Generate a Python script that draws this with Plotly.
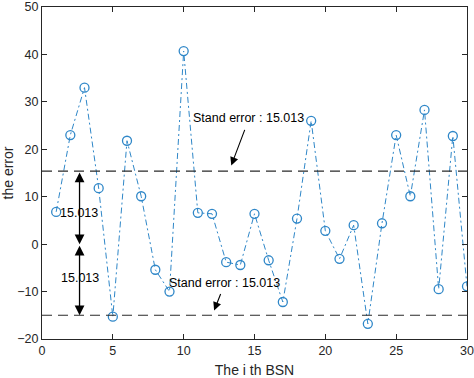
import plotly.graph_objects as go

# ---- data ----
bsn = list(range(1, 31))
error = [6.8, 23.0, 33.0, 11.8, -15.3, 21.8, 10.1, -5.4, -10.0, 40.7,
         6.6, 6.4, -3.8, -4.4, 6.4, -3.4, -12.2, 5.4, 26.0, 2.8,
         -3.1, 4.0, -16.8, 4.4, 23.0, 10.1, 28.3, -9.5, 22.8, -8.9]
upper_level = 15.4
lower_level = -15.0
std_label = "15.013"
x_ticks = [0, 5, 10, 15, 20, 25, 30]
y_ticks = [-20, -10, 0, 10, 20, 30, 40, 50]

FONT = "Liberation Sans, Arial, sans-serif"
AX = "#262626"
BLUE = "#2f87c8"

fig = go.Figure()

fig.add_trace(go.Scatter(
    x=bsn, y=error, mode="lines+markers",
    line=dict(color=BLUE, width=1, dash="6px,3px,2px,3px"),
    marker=dict(symbol="circle-open", size=9, color=BLUE, line=dict(width=1.3, color=BLUE)),
    showlegend=False, hoverinfo="skip"))

for lvl in (upper_level, lower_level):
    fig.add_trace(go.Scatter(
        x=[x_ticks[0], x_ticks[-1]], y=[lvl, lvl], mode="lines",
        line=dict(color="#2a2a2a", width=1.1, dash="10px,6px"),
        showlegend=False, hoverinfo="skip"))

ann = []
# double arrows
xa = 2.65
ann.append(dict(x=xa, y=0, ax=xa, ay=upper_level, xref="x", yref="y", axref="x", ayref="y",
                text="", showarrow=True, arrowhead=2, startarrowhead=2, arrowside="end+start",
                arrowsize=1.5, startarrowsize=1.5, arrowwidth=1.3, arrowcolor="black",
                standoff=0, startstandoff=0))
ann.append(dict(x=xa, y=lower_level, ax=xa, ay=0, xref="x", yref="y", axref="x", ayref="y",
                text="", showarrow=True, arrowhead=2, startarrowhead=2, arrowside="end+start",
                arrowsize=1.5, startarrowsize=1.5, arrowwidth=1.3, arrowcolor="black",
                standoff=0, startstandoff=0))
ann.append(dict(x=2.6, y=6.6, xref="x", yref="y", text=std_label, showarrow=False,
                font=dict(family=FONT, size=12.5, color="black")))
ann.append(dict(x=2.65, y=-7.1, xref="x", yref="y", text=std_label, showarrow=False,
                font=dict(family=FONT, size=12.5, color="black")))
# stand error labels
ann.append(dict(x=14.6, y=26.5, xref="x", yref="y", text="Stand error : " + std_label,
                showarrow=False, font=dict(family=FONT, size=12.5, color="black")))
ann.append(dict(x=12.9, y=-8.1, xref="x", yref="y", text="Stand error : " + std_label,
                showarrow=False, font=dict(family=FONT, size=12.5, color="black")))
# single arrows
ann.append(dict(x=13.36, y=16.6, ax=14.35, ay=24.4, xref="x", yref="y", axref="x", ayref="y",
                text="", showarrow=True, arrowhead=2, arrowsize=1.5, arrowwidth=1.1,
                arrowcolor="black", standoff=0))
ann.append(dict(x=12.15, y=-14.0, ax=12.65, ay=-10.2, xref="x", yref="y", axref="x", ayref="y",
                text="", showarrow=True, arrowhead=2, arrowsize=1.5, arrowwidth=1.1,
                arrowcolor="black", standoff=0))

fig.update_layout(
    width=474, height=378,
    margin=dict(l=42, r=7, t=7, b=39),
    paper_bgcolor="white", plot_bgcolor="white",
    font=dict(family=FONT, size=12.5, color=AX),
    annotations=ann,
)
fig.update_xaxes(range=[0, 30], tickvals=x_ticks, ticks="inside", ticklen=5, tickcolor=AX,
                 showline=True, linecolor=AX, linewidth=1, mirror="ticks", showgrid=False,
                 zeroline=False, title=dict(text="The i th BSN", font=dict(size=14), standoff=10),
                 automargin=False, ticklabeloverflow="allow", tickfont=dict(size=12.5, color=AX))
fig.update_yaxes(range=[-20, 50], tickvals=y_ticks, ticks="inside", ticklen=5, tickcolor=AX,
                 showline=True, linecolor=AX, linewidth=1, mirror="ticks", showgrid=False,
                 zeroline=False, title=dict(text="the error", font=dict(size=14), standoff=4),
                 automargin=False, ticklabeloverflow="allow", tickfont=dict(size=12.5, color=AX))

fig.write_html("out.html", config={"displayModeBar": False},
               post_script="document.body.style.margin='0';document.body.style.overflow='hidden';")
